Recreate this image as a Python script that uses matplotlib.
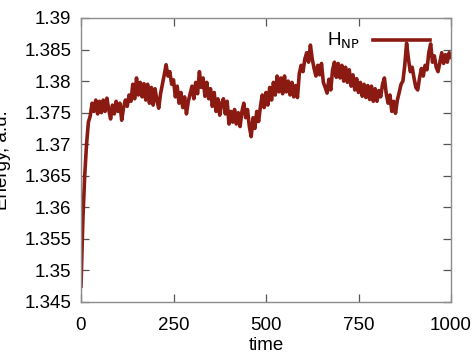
import numpy as np
import matplotlib.pyplot as plt

plt.rcParams['font.family'] = ['Liberation Sans', 'DejaVu Sans']

# energy values, one every 5 time units
energy = [
    1.3475, 1.3580, 1.3650, 1.3700, 1.3735, 1.3745, 1.3765, 1.3752, 1.3770, 1.3748,
    1.3768, 1.3750, 1.3770, 1.3752, 1.3773, 1.3755, 1.3740, 1.3762, 1.3748, 1.3768,
    1.3752, 1.3765, 1.3738, 1.3758, 1.3770, 1.3760, 1.3778, 1.3768, 1.3795, 1.3772,
    1.3805, 1.3778, 1.3798, 1.3775, 1.3796, 1.3770, 1.3795, 1.3765, 1.3790, 1.3762,
    1.3788, 1.3770, 1.3757, 1.3780, 1.3795, 1.3810, 1.3826, 1.3808, 1.3815, 1.3795,
    1.3802, 1.3775, 1.3792, 1.3765, 1.3782, 1.3758, 1.3775, 1.3748, 1.3768, 1.3780,
    1.3792, 1.3772, 1.3798, 1.3780, 1.3815, 1.3790, 1.3805, 1.3776, 1.3798, 1.3772,
    1.3788, 1.3760, 1.3782, 1.3752, 1.3772, 1.3746, 1.3765, 1.3772, 1.3748, 1.3768,
    1.3732, 1.3752, 1.3735, 1.3755, 1.3732, 1.3750, 1.3728, 1.3752, 1.3765, 1.3742,
    1.3755, 1.3728, 1.3712, 1.3742, 1.3725, 1.3752, 1.3736, 1.3760, 1.3778, 1.3758,
    1.3782, 1.3762, 1.3790, 1.3770, 1.3798, 1.3778, 1.3808, 1.3783, 1.3805, 1.3780,
    1.3808, 1.3783, 1.3800, 1.3778, 1.3798, 1.3775, 1.3793, 1.3774, 1.3812, 1.3825,
    1.3815, 1.3835, 1.3845, 1.3830, 1.3857, 1.3835, 1.3820, 1.3808, 1.3825, 1.3810,
    1.3828, 1.3798, 1.3790, 1.3781, 1.3803, 1.3786, 1.3818, 1.3830, 1.3806, 1.3828,
    1.3805, 1.3825, 1.3800, 1.3822, 1.3798, 1.3818, 1.3792, 1.3810, 1.3786, 1.3804,
    1.3782, 1.3798, 1.3776, 1.3795, 1.3774, 1.3793, 1.3771, 1.3792, 1.3768, 1.3788,
    1.3768, 1.3785, 1.3775, 1.3795, 1.3805, 1.3780, 1.3765, 1.3778, 1.3752, 1.3768,
    1.3749, 1.3770, 1.3782, 1.3795, 1.3800, 1.3825, 1.3860, 1.3835, 1.3815, 1.3822,
    1.3805, 1.3790, 1.3786, 1.3805, 1.3820, 1.3808, 1.3825, 1.3818, 1.3845, 1.3859,
    1.3830, 1.3840, 1.3822, 1.3815, 1.3830, 1.3845, 1.3828, 1.3842, 1.3830, 1.3845,
    1.3838,
]
time = np.arange(len(energy)) * 5

xticks = [0, 250, 500, 750, 1000]
yticks = [1.345, 1.35, 1.355, 1.36, 1.365, 1.37, 1.375, 1.38, 1.385, 1.39]

line_color = '#8b1a12'
spine_color = '#8c8c8c'

fig = plt.figure(figsize=(4.74, 3.55), dpi=100)
ax = fig.add_axes([81 / 474, 1 - 302 / 355, 370 / 474, 284 / 355])

ax.plot(time, energy, color=line_color, lw=2.6, label=r'H$_{\mathrm{NP}}$')

ax.set_xlim(0, 1000)
ax.set_ylim(1.345, 1.39)
ax.set_xticks(xticks)
ax.set_xticklabels([str(t) for t in xticks])
ax.set_yticks(yticks)
ax.set_yticklabels([f'{v:g}' for v in yticks])

for s in ax.spines.values():
    s.set_color(spine_color)
    s.set_linewidth(1.0)
ax.tick_params(direction='in', length=6, width=0.9, color='#555555',
               top=True, right=True, labelsize=13.5)
ax.tick_params(axis='y', pad=7)
ax.tick_params(axis='x', pad=11)

ax.set_xlabel('time', fontsize=13.5, labelpad=2)
ax.set_ylabel('Energy, a.u.', fontsize=13.5)
ax.yaxis.set_label_coords(-0.19, 0.5)

ax.legend(loc='upper right', frameon=False, fontsize=13.5, markerfirst=False,
          handlelength=3.0, handletextpad=0.7, borderaxespad=0.3,
          bbox_to_anchor=(0.978, 1.0))

fig.savefig('out.png', dpi=100)
